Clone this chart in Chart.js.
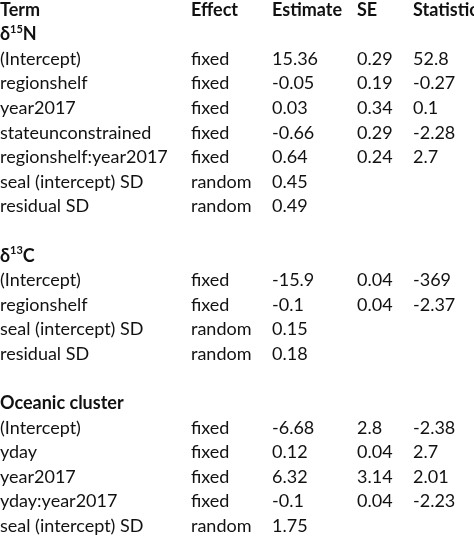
<!DOCTYPE html>
<html><head><meta charset="utf-8">
<script src="https://cdn.jsdelivr.net/npm/chart.js@4"></script>
<style>html,body{margin:0;padding:0;background:#fff}#wrap{width:474px;height:536px}</style>
</head><body><div id="wrap"><canvas id="tbl"></canvas></div>
<script>
const headers = ["Term", "Effect", "Estimate", "SE", "Statistic"];
const terms = ["δ<15>N", "(Intercept)", "regionshelf", "year2017", "stateunconstrained", "regionshelf:year2017", "seal (intercept) SD", "residual SD", "",
  "δ<13>C", "(Intercept)", "regionshelf", "seal (intercept) SD", "residual SD", "",
  "Oceanic cluster", "(Intercept)", "yday", "year2017", "yday:year2017", "seal (intercept) SD"];
const effects = ["", "fixed", "fixed", "fixed", "fixed", "fixed", "random", "random", "",
  "", "fixed", "fixed", "random", "random", "",
  "", "fixed", "fixed", "fixed", "fixed", "random"];
const estimates = ["", "15.36", "-0.05", "0.03", "-0.66", "0.64", "0.45", "0.49", "",
  "", "-15.9", "-0.1", "0.15", "0.18", "",
  "", "-6.68", "0.12", "6.32", "-0.1", "1.75"];
const ses = ["", "0.29", "0.19", "0.34", "0.29", "0.24", "", "", "",
  "", "0.04", "0.04", "", "", "",
  "", "2.8", "0.04", "3.14", "0.04", ""];
const stats = ["", "52.8", "-0.27", "0.1", "-2.28", "2.7", "", "", "",
  "", "-369", "-2.37", "", "", "",
  "", "-2.38", "2.7", "2.01", "-2.23", ""];
const sectionRows = [0, 9, 15];

const colX = [0, 191, 272, 357, 413];
const columns = [terms, effects, estimates, ses, stats];

const datasets = columns.map((col, c) => ({
  label: headers[c],
  texts: [headers[c]].concat(col),
  data: [headers[c]].concat(col).map((t, i) => ({ x: colX[c], y: i })),
  pointRadius: 0
}));

const FONT = '"Lato", "Open Sans", sans-serif';

const textPlugin = {
  id: "cellText",
  afterDatasetsDraw(chart) {
    const ctx = chart.ctx;
    ctx.save();
    ctx.fillStyle = "#111";
    ctx.textBaseline = "middle";
    ctx.textAlign = "left";
    chart.data.datasets.forEach((ds, d) => {
      chart.getDatasetMeta(d).data.forEach((pt, i) => {
        const t = ds.texts[i];
        if (!t) return;
        const bold = i === 0 || (d === 0 && sectionRows.includes(i - 1));
        const w = bold ? "bold " : "";
        let x = pt.x;
        const parts = t.split(/[<>]/);
        parts.forEach((p, k) => {
          if (!p) return;
          const sup = k % 2 === 1;
          ctx.font = w + (sup ? "11px " : "18px ") + FONT;
          ctx.fillText(p, x, pt.y - (sup ? 5 : 0));
          x += ctx.measureText(p).width;
        });
      });
    });
    ctx.restore();
  }
};

new Chart(document.getElementById("tbl").getContext("2d"), {
  type: "scatter",
  data: { datasets },
  options: {
    responsive: true,
    maintainAspectRatio: false,
    animation: false,
    layout: { padding: 0 },
    plugins: { legend: { display: false }, tooltip: { enabled: false } },
    scales: {
      x: { type: "linear", min: 0, max: 474, display: false },
      y: { type: "linear", min: -0.4, max: 21.4, reverse: true, display: false }
    }
  },
  plugins: [textPlugin]
});
</script></body></html>
